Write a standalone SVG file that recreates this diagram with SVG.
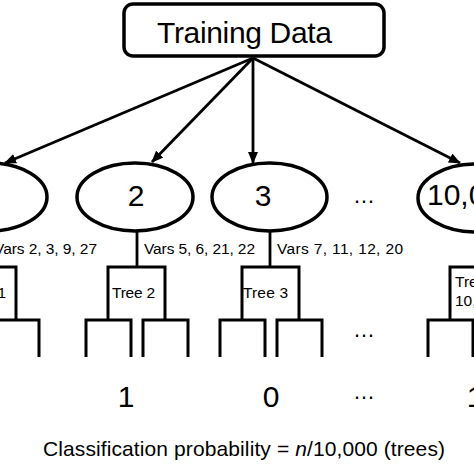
<svg xmlns="http://www.w3.org/2000/svg" xmlns:xlink="http://www.w3.org/1999/xlink" width="474" height="474" viewBox="0 0 474 474">
<style>
text{font-family:"Liberation Sans",Arial,sans-serif;fill:#000}
.big{font-size:30px}
.dots{font-size:22px}
.lbl{font-size:15.5px}
.cap{font-size:21px}
.shape{fill:#fff;stroke:#000;stroke-width:3.5}
.tree{fill:none;stroke:#000;stroke-width:3;stroke-linejoin:miter}
.conn{stroke:#000;stroke-width:2.8;fill:none}
</style>
<defs>
<marker id="ah" markerUnits="userSpaceOnUse" markerWidth="12" markerHeight="10" refX="11" refY="5" orient="auto">
<path d="M0,0 L12,5 L0,10 z" fill="#000"/>
</marker>
<path id="treeshape" class="tree" d="M-22,90 V53 H23 V90 M0,53 V0 H57 V53 M35,90 V53 H80 V90"/>
</defs>
<rect width="474" height="474" fill="#fff"/>
<g id="connectors">
<line class="conn" x1="253" y1="58" x2="5" y2="163" marker-end="url(#ah)"/>
<line class="conn" x1="253" y1="58" x2="152" y2="162" marker-end="url(#ah)"/>
<line class="conn" x1="253" y1="58" x2="253" y2="163" marker-end="url(#ah)"/>
<line class="conn" x1="253" y1="58" x2="460" y2="163" marker-end="url(#ah)"/>
<line class="conn" x1="-13" y1="231" x2="-13" y2="267" stroke-width="3"/>
<line class="conn" x1="137" y1="231" x2="137" y2="267" stroke-width="3"/>
<line class="conn" x1="270" y1="231" x2="270" y2="267" stroke-width="3"/>
<line class="conn" x1="478" y1="231" x2="478" y2="267" stroke-width="3"/>
</g>
<g id="training">
<rect class="shape" x="124" y="4" width="260" height="52" rx="9"/>
<text class="big" x="244.5" y="43" text-anchor="middle" textLength="175">Training Data</text>
</g>
<g id="sample1">
<ellipse class="shape" cx="-11" cy="197" rx="58" ry="34"/>
</g>
<g id="sample2">
<ellipse class="shape" cx="135" cy="197" rx="58" ry="34"/>
<text class="big" x="136" y="206" text-anchor="middle">2</text>
</g>
<g id="sample3">
<ellipse class="shape" cx="269.5" cy="197" rx="57.5" ry="34"/>
<text class="big" x="263" y="206" text-anchor="middle">3</text>
</g>
<g id="sample4">
<ellipse class="shape" cx="476" cy="198" rx="58" ry="34"/>
<text class="big" x="427" y="205">10,000</text>
</g>
<g id="dots-top"><text class="dots" x="364" y="203" text-anchor="middle">…</text></g>
<g id="vars">
<text class="lbl" x="-6" y="254" textLength="103">Vars 2, 3, 9, 27</text>
<text class="lbl" x="144" y="254" textLength="111">Vars 5, 6, 21, 22</text>
<text class="lbl" x="277" y="254" textLength="126">Vars 7, 11, 12, 20</text>
</g>
<g id="tree1">
<use xlink:href="#treeshape" transform="translate(-41,267)"/>
<text class="lbl" x="-37" y="298" textLength="43">Tree 1</text>
</g>
<g id="tree2">
<use xlink:href="#treeshape" transform="translate(108,267)"/>
<text class="lbl" x="112" y="298" textLength="43">Tree 2</text>
</g>
<g id="tree3">
<use xlink:href="#treeshape" transform="translate(242,267)"/>
<text class="lbl" x="243" y="298" textLength="45">Tree 3</text>
</g>
<g id="tree4">
<use xlink:href="#treeshape" transform="translate(450,267)"/>
<text class="lbl" x="455" y="287">Tree</text>
<text class="lbl" x="455" y="306">10,000</text>
</g>
<g id="dots-mid"><text class="dots" x="364" y="337" text-anchor="middle">…</text></g>
<g id="results">
<text class="big" x="126" y="407" text-anchor="middle">1</text>
<text class="big" x="271" y="407" text-anchor="middle">0</text>
<text class="dots" x="364" y="399" text-anchor="middle">…</text>
<text class="big" x="475" y="407" text-anchor="middle">1</text>
</g>
<g id="caption">
<text class="cap" x="244" y="456" text-anchor="middle" textLength="402">Classification probability = <tspan font-style="italic">n</tspan>/10,000 (trees)</text>
</g>
</svg>
